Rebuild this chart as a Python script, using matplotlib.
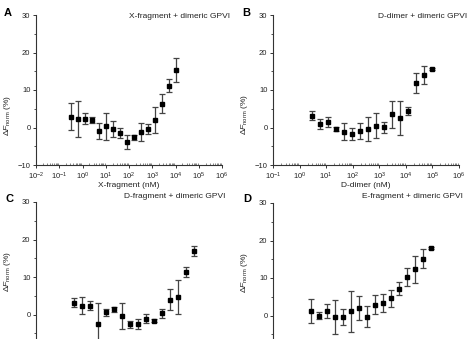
import numpy as np
import matplotlib.pyplot as plt
from matplotlib.ticker import LogLocator, MultipleLocator, NullFormatter, FixedLocator

plt.rcParams['font.family'] = ['Liberation Sans', 'DejaVu Sans']
plt.rcParams['mathtext.fontset'] = 'custom'
plt.rcParams['mathtext.rm'] = 'Liberation Sans'
plt.rcParams['mathtext.it'] = 'Liberation Sans:italic'

# 数据：2倍稀释系列
conc_A = [10000 / 2 ** k for k in range(15, -1, -1)]
conc_B = [100000 / 2 ** k for k in range(15, -1, -1)]
conc_C = [88000 / 2 ** k for k in range(15, -1, -1)]
conc_D = [88000 / 2 ** k for k in range(15, -1, -1)]

y_A = [2.9, 2.3, 2.4, 1.9, -0.9, 0.3, -0.4, -1.4, -3.8, -2.6, -1.2, -0.4, 2.0, 6.4, 11.2, 15.3]
e_A = [3.6, 4.9, 1.5, 0.8, 2.2, 3.5, 2.2, 1.3, 1.9, 0.7, 2.3, 1.4, 3.4, 2.5, 1.7, 3.1]

y_B = [3.2, 0.9, 1.5, -0.4, -1.1, -1.8, -1.0, -0.5, 0.5, 0.1, 3.6, 2.5, 4.4, 11.9, 14.1, 15.6]
e_B = [1.2, 1.4, 1.4, 0.6, 2.2, 1.6, 2.1, 3.2, 3.4, 1.5, 3.6, 4.6, 1.0, 2.6, 2.4, 0.3]

y_C = [3.1, 2.4, 2.4, -2.4, 0.6, 1.4, -0.4, -2.6, -2.6, -1.1, -1.6, 0.3, 4.0, 4.6, 11.4, 17.0]
e_C = [1.2, 2.35, 1.2, 5.5, 1.0, 0.6, 3.5, 1.0, 1.3, 1.2, 0.3, 1.1, 2.8, 4.5, 1.35, 1.4]

y_D = [1.2, 0.0, 1.2, -0.4, -0.4, 1.1, 2.0, -0.3, 2.9, 3.3, 4.6, 7.2, 10.3, 12.4, 15.2, 18.0]
e_D = [3.3, 0.9, 1.8, 4.5, 2.1, 5.4, 3.2, 2.8, 2.6, 2.4, 2.2, 1.8, 2.4, 3.6, 2.5, 0.3]

W, H = 474, 339
fig = plt.figure(figsize=(W / 100, H / 100), dpi=100)


def px_axes(l, t, r, b):
    return fig.add_axes([l / W, 1 - b / H, (r - l) / W, (b - t) / H])


panels = [
    # letter, title, xlabel, x, y, err, box(l,t,r,b), xlim, ylabel_y, title pos, letter pos, bottom row
    ('A', 'X-fragment + dimeric GPVI', 'X-fragment (nM)', conc_A, y_A, e_A,
     (36, 15, 222, 165), (1e-2, 1e6), 0.33, (230, 17), (8, 13), False),
    ('B', 'D-dimer + dimeric GPVI', 'D-dimer (nM)', conc_B, y_B, e_B,
     (273, 15, 459, 165), (1e-1, 1e6), 0.34, (467, 17), (246, 13), False),
    ('C', 'D-fragment + dimeric GPVI', None, conc_C, y_C, e_C,
     (36, 202, 222, 352), (1e-1, 1e6), 0.54, (225, 196), (10, 199), True),
    ('D', 'E-fragment + dimeric GPVI', None, conc_D, y_D, e_D,
     (273, 203, 459, 353), (1e-1, 1e6), 0.54, (463, 196), (247, 199), True),
]

for letter, title, xlabel, x, y, err, box, xlim, ly, tpos, lpos, bottom in panels:
    ax = px_axes(*box)
    ax.errorbar(x, y, yerr=err, fmt='s', color='black', ms=3,
                ecolor='#444444', elinewidth=0.9, capsize=2, capthick=0.9)
    ax.set_xscale('log')
    ax.set_xlim(*xlim)
    ax.set_ylim(-10, 30)
    if bottom:
        # 下排图在图片底部被截断，只显示可见刻度
        ax.yaxis.set_major_locator(FixedLocator([0, 10, 20, 30]))
    else:
        ax.yaxis.set_major_locator(MultipleLocator(10))
    ax.yaxis.set_minor_locator(MultipleLocator(5))
    ax.xaxis.set_major_locator(LogLocator(base=10, numticks=20))
    ax.xaxis.set_minor_locator(LogLocator(base=10, subs=np.arange(2, 10), numticks=20))
    ax.xaxis.set_minor_formatter(NullFormatter())
    ax.spines['top'].set_visible(False)
    ax.spines['right'].set_visible(False)
    for s in ('left', 'bottom'):
        ax.spines[s].set_linewidth(0.8)
        ax.spines[s].set_color('#333333')
    ax.tick_params(axis='both', which='major', labelsize=5.5, length=2.5, width=0.7,
                   colors='#333333', labelcolor='#222222', pad=1.5)
    ax.tick_params(axis='x', which='minor', length=1.5, width=0.5, direction='in', colors='#555555')
    ax.tick_params(axis='y', which='minor', length=1.5, width=0.6, colors='#333333')
    if bottom:
        ax.tick_params(axis='x', which='both', labelbottom=False)
    ax.set_ylabel(r'$\Delta F_{\mathrm{norm}}$ (%)', fontsize=6, color='#222222')
    ax.yaxis.set_label_coords(-0.124, ly)
    if xlabel:
        ax.set_xlabel(xlabel, fontsize=6, color='#222222', labelpad=0)
    ax.patch.set_alpha(0)
    fig.text(tpos[0] / W, 1 - tpos[1] / H, title, fontsize=6, color='#222222',
             ha='right', va='center')
    fig.text(lpos[0] / W, 1 - lpos[1] / H, letter, fontsize=8, fontweight='bold',
             ha='center', va='center')

fig.savefig('out.png', dpi=100)
